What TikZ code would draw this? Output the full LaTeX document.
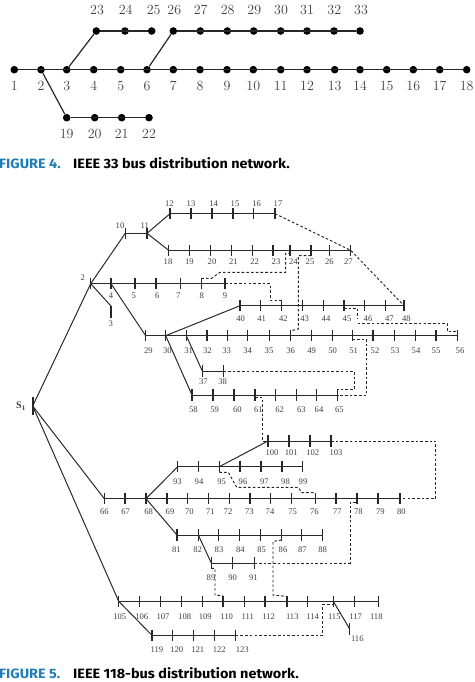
\documentclass[tikz,border=0pt]{standalone}
\usepackage{fontspec}
\usetikzlibrary{positioning}
\newfontfamily\busfont{Liberation Serif}
\newfontfamily\capfont[FakeStretch=1.07]{Fira Sans}
\definecolor{capCol}{HTML}{1F7DB4}
\definecolor{wireCol}{HTML}{2A2A2A}

\begin{document}
\begin{tikzpicture}[x=1pt,y=-1pt,
  dot/.style={circle,fill=black,inner sep=0pt,minimum size=7.6pt},
  topnum/.style={inner sep=0pt,text=black!75,font=\fontsize{14}{16}\selectfont},
  feeder/.style={line width=1.2pt,black!85},
  bus/.style={rectangle,fill=black!85,inner sep=0pt,minimum width=1.2pt,minimum height=11.5pt},
  num/.style={inner sep=0pt,text=black!75,font=\fontsize{8.6}{10}\busfont},
  wire/.style={line width=1pt,wireCol},
  tie/.style={line width=0.95pt,black!85,dash pattern=on 2.6pt off 2.1pt},
  figcap/.style={anchor=base west,inner sep=0pt,font=\fontsize{13.5}{15}\capfont\bfseries},
]
\useasboundingbox (0,0) rectangle (474,682);

% 33 bus network
\foreach \n/\x in {1/14.3,2/41,3/66.7,4/93.7,5/120.7,6/147,7/173.3,8/200,9/227,10/253.3,11/280.7,12/307,13/334.7,14/360,15/386.7,16/413.3,17/439.7,18/466.7}
  {\node[dot] (a\n) at (\x,69.7) {}; \node[topnum] (la\n) at (\x,85.7) {\n};}
\foreach \n/\x/\lx in {23/96.3/97,24/125/125.7,25/151.7/153.7,26/173.3/174.3,27/200.3/200.7,28/227.3/227.7,29/253.7/254.3,30/280.7/281,31/307/307,32/334/334.3,33/360/361}
  {\node[dot] (a\n) at (\x,31) {}; \node[topnum] (la\n) at (\lx,9.7) {\n};}
\foreach \n/\x in {19/66.7,20/94.7,21/121.7,22/149}
  {\node[dot] (a\n) at (\x,117.7) {}; \node[topnum] (la\n) at (\x,134) {\n};}

\draw[feeder] (a1) -- (a18);
\draw[feeder] (a23) -- (a25);
\draw[feeder] (a26) -- (a33);
\draw[feeder] (a19) -- (a22);
\draw[feeder] (a3) -- (a23);
\draw[feeder] (a6) -- (a26);
\draw[feeder] (a2) -- (a19);

\node[figcap,text=capCol] (fig4) at (-1,168.3) {FIGURE 4.};
\node[figcap] (title4) at (73,168.3) {IEEE 33 bus distribution network.};

% 118 bus network, row by row
\node[bus,minimum width=2.4pt,minimum height=18pt] (s1) at (32.7,406) {};
\node[inner sep=0pt,text=black!75,font=\fontsize{10}{11}\busfont\bfseries] (ls1) at (21,406) {S\textsubscript{1}};

\foreach \n/\x/\lx in {10/125.3/120,11/147/144.7}
  {\node[bus] (b\n) at (\x,233.3) {}; \node[num] (l\n) at (\lx,226) {\n};}
\foreach \n/\x/\lx in {12/170/169.3,13/191/191,14/212/213.7,15/233/235,16/253.7/256.7,17/275/278}
  {\node[bus] (b\n) at (\x,213.7) {}; \node[num] (l\n) at (\lx,203.7) {\n};}
\foreach \n/\x/\lx in {18/168.7/168,19/189.7/189.3,20/210.7/212,21/231.3/233.3,22/252.3/254.7,23/273/276,24/290/293.3,25/311/310,26/329.7/329.3,27/350.7/348.3}
  {\node[bus] (b\n) at (\x,250.3) {}; \node[num] (l\n) at (\lx,261.7) {\n};}
\node[bus] (b2) at (90.7,283.7) {};
\node[num] (l2) at (82.7,277.3) {2};
\node[bus] (b3) at (111,312) {};
\node[num] (l3) at (110.7,324) {3};
\foreach \n/\x/\lx in {4/111/111,5/135/133.7,6/156/157.3,7/180.3/178.3,8/201.3/201.7,9/225/225}
  {\node[bus] (b\n) at (\x,283.7) {}; \node[num] (l\n) at (\lx,295.7) {\n};}
\foreach \n/\x/\lx in {40/240/240.7,41/260.7/261.7,42/281.7/283.3,43/302.3/304.7,44/323.3/326,45/344/347,46/364.3/368,47/385.3/389.3,48/404/406.3}
  {\node[bus] (b\n) at (\x,305.7) {}; \node[num] (l\n) at (\lx,318.3) {\n};}
\foreach \n/\x/\lx in {29/145.7/148.3,30/165.7/167.3,31/186.3/188.7,32/207/207.3,33/227.3/226.7,34/247.3/247.7,35/269.3/269,36/290.3/290.7,49/311.7/311.7,50/332.3/332.7,51/352.3/353.7,52/373/375,53/394.3/395,54/415.3/416,55/436/436,56/457.3/460}
  {\node[bus] (b\n) at (\x,335.7) {}; \node[num] (l\n) at (\lx,350.7) {\n};}
\foreach \n/\x/\lx in {37/202.3/203.3,38/223.3/222.7}
  {\node[bus] (b\n) at (\x,371) {}; \node[num] (l\n) at (\lx,381.7) {\n};}
\foreach \n/\x/\lx in {58/192/193.3,59/213/214.7,60/234/237.3,61/255/258.3,62/275.7/279.7,63/296.7/301.3,64/316.7/319,65/337.7/339.3}
  {\node[bus] (b\n) at (\x,395) {}; \node[num] (l\n) at (\lx,409.7) {\n};}
\foreach \n/\x/\lx in {100/268/272,101/289/291.3,102/310/312.7,103/331/336}
  {\node[bus] (b\n) at (\x,441) {}; \node[num] (l\n) at (\lx,452.7) {\n};}
\foreach \n/\x/\lx in {93/177.7/177.3,94/198.7/199,95/219.3/221.7,96/240/243,97/261/264.3,98/282/285.5,99/302.3/303}
  {\node[bus] (b\n) at (\x,466.7) {}; \node[num] (l\n) at (\lx,481.3) {\n};}
\foreach \n/\x/\lx in {66/104.3/104.3,67/125/125.7,68/146/148.7,69/167/170,70/187.7/189.3,71/208.7/210.3,72/229.3/228,73/250/249.3,74/270.7/270,75/291.7/292.7,76/315.3/314.3,77/336/337.3,78/357/358.3,79/378/380.3,80/400/401.3}
  {\node[bus] (b\n) at (\x,498.7) {}; \node[num] (l\n) at (\lx,512) {\n};}
\foreach \n/\x/\lx in {81/177/176.3,82/198.3/197.7,83/218.7/219,84/239.7/240.3,85/260.3/261.7,86/281.7/283,87/301.7/302.3,88/322.3/322.7}
  {\node[bus] (b\n) at (\x,535) {}; \node[num] (l\n) at (\lx,550) {\n};}
\foreach \n/\x/\lx in {89/211.3/211,90/232.3/232.7,91/254.3/253.3}
  {\node[bus] (b\n) at (\x,563) {}; \node[num] (l\n) at (\lx,577.3) {\n};}
\foreach \n/\x/\lx in {105/118.7/119.7,106/139.7/141.7,107/160.7/163,108/181.3/184.7,109/202.3/205.3,110/223/226.7,111/244.3/247.7,112/265/268.7,113/287/292.3,114/307.7/312.7,115/333.3/334.3,117/354.3/355.7,118/378.3/376.3}
  {\node[bus] (b\n) at (\x,601.3) {}; \node[num] (l\n) at (\lx,616.3) {\n};}
\node[bus] (b116) at (349.7,629) {};
\node[num] (l116) at (357.3,638.3) {116};
\foreach \n/\x/\lx in {119/152/157,120/172.7/176.7,121/193.7/197.7,122/214.7/219.3,123/235.7/242.3}
  {\node[bus] (b\n) at (\x,635.3) {}; \node[num] (l\n) at (\lx,650) {\n};}

% solid feeders
\draw[wire] (b10.center) -- (b11.center);
\draw[wire] (b12.center) -- (b17.center);
\draw[wire] (b18.center) -- (b27.center);
\draw[wire] (b2.center) -- (b9.center);
\draw[wire] (b40.center) -- (b48.center);
\draw[wire] (b29.center) -- (b56.center);
\draw[wire] (b37.center) -- (b38.center);
\draw[wire] (b58.center) -- (b65.center);
\draw[wire] (b100.center) -- (b103.center);
\draw[wire] (b93.center) -- (b99.center);
\draw[wire] (b66.center) -- (b80.center);
\draw[wire] (b81.center) -- (b88.center);
\draw[wire] (b89.center) -- (b91.center);
\draw[wire] (b105.center) -- (b118.center);
\draw[wire] (b119.center) -- (b123.center);

\draw[wire] (s1.center) -- (b2.center);
\draw[wire] (s1.center) -- (b66.center);
\draw[wire] (s1.center) -- (b105.center);
\draw[wire] (b2.center) -- (b10.center);
\draw[wire] (b2.center) -- (b3.north);
\draw[wire] (b11.center) -- (b12.center);
\draw[wire] (b11.center) -- (b18.center);
\draw[wire] (b4.center) -- (b29.center);
\draw[wire] (b30.center) -- (b40.center);
\draw[wire] (b30.center) -- (b58.center);
\draw[wire] (b31.center) -- (b37.center);
\draw[wire] (b68.center) -- (b93.center);
\draw[wire] (b68.center) -- (b81.center);
\draw[wire] (b95.center) -- (b100.center);
\draw[wire] (b82.center) -- (b89.center);
\draw[wire] (b105.center) -- (b119.center);
\draw[wire] (b115.center) -- (b116.center);

% tie lines
\draw[tie] (b17.center) -- (b27.center) -- (b48.center);
\draw[tie] (b8 |- 0,278.3) -- (211.7,278.3) -- (220,272.3) -- (285.7,272.3) -- (285.7,253.3) -- (b24 |- 0,253.3);
\draw[tie] (b9.center) -- (270,283.7) -- (270,300) -- (b42 |- 0,300);
\draw[tie] (b25 |- 0,255.7) -- (298.3,255.7) -- (298.3,329) -- (b36 |- 0,331);
\draw[tie] (b45 |- 0,308.3) -- (357.7,308.3) -- (357.7,319);
\draw[tie] (357.7,323.3) -- (447,323.3) -- (447,331) -- (b56 |- 0,331);
\draw[tie] (b51 |- 0,339.3) -- (366.7,339.3) -- (366.7,395) -- (b65.center);
\draw[tie] (b38.center) -- (354,371) -- (354,389.3) -- (b65 |- 0,389.3);
\draw[tie] (b61 |- 0,397.7) -- (262.5,397.7) -- (262.5,441) -- (b100.center);
\draw[tie] (b103.center) -- (435.7,441) -- (435.7,498.7) -- (b80.center);
\draw[tie] (b95 |- 0,472.3) -- (228.3,472.3) -- (236.7,487.3) -- (298.3,487.3) -- (301.7,492.7) -- (b76 |- 0,492.7);
\draw[tie] (b91.center) -- (350,563) -- (350,502.3) -- (b78 |- 0,502.3);
\draw[tie] (b86 |- 0,540) -- (273,541.5) -- (273,595) -- (b113 |- 0,596.5);
\draw[tie] (b89 |- 0,568.3) -- (215,568.3) -- (215,595) -- (b110 |- 0,596);
\draw[tie] (b123.center) -- (322.7,635.3) -- (322.7,604.3) -- (b115 |- 0,604.3);

\node[figcap,text=capCol] (fig5) at (-1,678.4) {FIGURE 5.};
\node[figcap] (title5) at (73,678.4) {IEEE 118-bus distribution network.};

\end{tikzpicture}
\end{document}
